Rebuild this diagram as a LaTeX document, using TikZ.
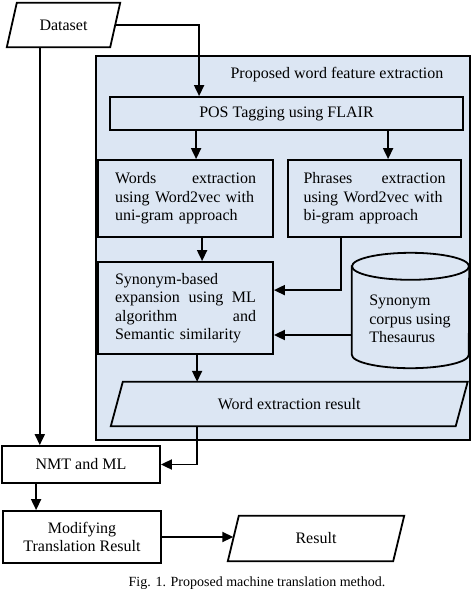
\documentclass[tikz,border=0pt]{standalone}
\usepackage{fontspec}
\setmainfont{Liberation Serif}
\usetikzlibrary{arrows.meta,calc}
\definecolor{panel}{HTML}{DCE6F3}
\begin{document}
\begin{tikzpicture}[x=1pt,y=-1pt,
  every node/.style={font=\fontsize{16}{18.5}\selectfont, inner sep=0pt},
  box/.style={draw=black, line width=1.8pt, fill=panel, rectangle},
  wbox/.style={draw=black, line width=1.8pt, fill=white, rectangle},
  ghost/.style={draw=none, rectangle},
  arr/.style={line width=1.8pt, -{Triangle[length=11pt,width=10pt]}},
  ln/.style={line width=1.8pt},
  para/.style={draw=black, line width=1.8pt, line join=miter}
]
\useasboundingbox (0,0) rectangle (474,590);
% outer panel
\node[draw=black, line width=2.8pt, fill=panel, minimum width=374pt, minimum height=384pt] (feat) at (283,248) {};
\node (ftitle) at (337,75) {Proposed word feature extraction};
% Dataset
\node[ghost, minimum width=103pt, minimum height=44pt] (ds) at (63.5,25) {Dataset};
\draw[para] ([xshift=5pt]ds.north west) -- ([xshift=5pt]ds.north east) -- ([xshift=-5pt]ds.south east) -- ([xshift=-5pt]ds.south west) -- cycle;
% POS
\node[box, minimum width=353pt, minimum height=33pt] (pos) at (286.5,113.5) {POS Tagging using FLAIR};
% words & phrases
\node[box, minimum width=175pt, minimum height=77pt, text width=141pt, align=left] (words) at (185.5,198.5)
  {Words\hfill extraction\\ using Word2vec with\\ uni-gram approach};
\node[box, minimum width=173pt, minimum height=77pt, text width=142pt, align=left] (phr) at (374.5,198.5)
  {Phrases\hfill extraction\\ using Word2vec with\\ bi-gram approach};
% synonym box
\node[box, minimum width=175pt, minimum height=92pt, text width=141pt, align=left] (syn) at (185.5,308)
  {Synonym-based\\ expansion\hfill using\hfill ML\\ algorithm\hfill and\\ Semantic similarity};
% cylinder
\node[ghost, minimum width=117pt, minimum height=101.5pt] (cyl) at (410.5,317.25) {};
\draw[ln, fill=panel] (cyl.north west) -- ($(cyl.south west)+(0,-13.5)$)
  arc[start angle=180, end angle=360, x radius=58.5pt, y radius=13.5pt] -- (cyl.north east) -- cycle;
\draw[ln, fill=panel] (cyl.north) ellipse[x radius=58.5pt, y radius=13.5pt];
\node[align=left] (cyltxt) at (410,319) {Synonym\\ corpus using\\ Thesaurus};
% word extraction result
\node[ghost, minimum width=344.5pt, minimum height=44pt] (wer) at (289.25,404) {Word extraction result};
\draw[para] ([xshift=6pt]wer.north west) -- ([xshift=6pt]wer.north east) -- ([xshift=-6pt]wer.south east) -- ([xshift=-6pt]wer.south west) -- cycle;
% bottom chain
\node[wbox, minimum width=158pt, minimum height=37pt] (nmt) at (81,464.5) {NMT and ML};
\node[wbox, minimum width=158pt, minimum height=52pt, align=center] (mod) at (82,537) {Modifying\\ Translation Result};
\node[ghost, minimum width=165pt, minimum height=45pt] (res) at (316,538.5) {Result};
\draw[para] ([xshift=5.5pt]res.north west) -- ([xshift=5.5pt]res.north east) -- ([xshift=-5.5pt]res.south east) -- ([xshift=-5.5pt]res.south west) -- cycle;
% caption
\node[anchor=base, font=\fontsize{14}{16}\selectfont] (cap) at (257,586.5) {Fig. 1. Proposed machine translation method.};
% connectors
\draw[arr] (ds.east) -| ($(pos.north west)+(90,0)$);
\draw[arr] ($(ds.south west)+(28,0)$) coordinate (dsd) -- (dsd |- nmt.north);
\draw[arr] ($(pos.south west)+(87,0)$) coordinate (p1) -- (p1 |- words.north);
\draw[arr] ($(pos.south west)+(279,0)$) coordinate (p2) -- (p2 |- phr.north);
\draw[arr] ($(words.south west)+(105,0)$) coordinate (w1) -- (w1 |- syn.north);
\draw[arr] ($(phr.south west)+(54,0)$) |- ($(syn.north east)+(0,29)$);
\draw[arr] ($(cyl.west)+(0,17.75)$) coordinate (c1) -- (c1 -| syn.east);
\draw[arr] ($(syn.south west)+(100,0)$) coordinate (s1) -- (s1 |- wer.north);
\draw[arr] ($(wer.south west)+(80,0)$) |- (nmt.east);
\draw[arr] ($(nmt.south west)+(35,0)$) coordinate (n1) -- (n1 |- mod.north);
\draw[arr] (mod.east) -- (mod.east -| res.west);
\end{tikzpicture}
\end{document}
